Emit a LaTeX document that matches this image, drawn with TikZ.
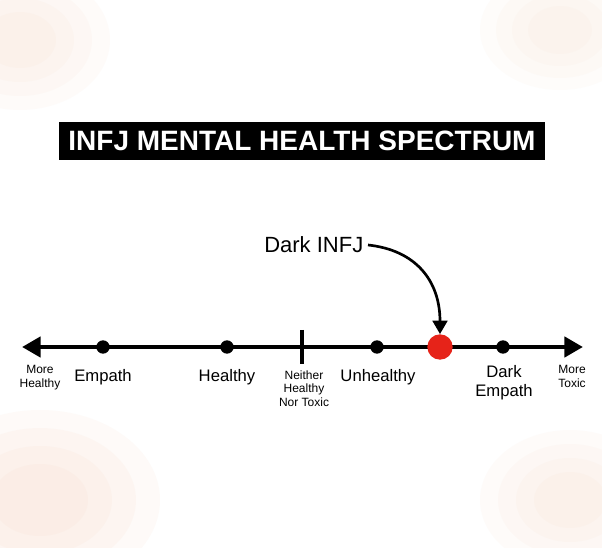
\documentclass[tikz,border=0pt]{standalone}
\usepackage{fontspec}
\setmainfont{Liberation Sans}
\usetikzlibrary{arrows.meta}
\definecolor{peach}{RGB}{245,205,180}
\definecolor{dotred}{RGB}{230,35,25}
\begin{document}
\begin{tikzpicture}[x=0.75pt,y=-0.75pt,
  dot/.style={circle,fill=black,inner sep=0pt,minimum size=10pt},
  lab/.style={font=\fontsize{12.5}{14}\selectfont,align=center,anchor=north},
  small/.style={font=\fontsize{9}{10}\selectfont,align=center,anchor=north}]
\useasboundingbox (0,0) rectangle (602,548);
\fill[white] (0,0) rectangle (602,548);
\begin{scope}
\clip (0,0) rectangle (602,548);
\foreach \r in {1,0.8,0.6,0.4}{
\fill[peach,opacity=0.07] (20,40) ellipse ({90*\r} and {70*\r});
\fill[peach,opacity=0.06] (560,30) ellipse ({80*\r} and {60*\r});
\fill[peach,opacity=0.09] (40,500) ellipse ({120*\r} and {90*\r});
\fill[peach,opacity=0.07] (570,500) ellipse ({90*\r} and {70*\r});
}
\end{scope}
\node[fill=black,text=white,font=\bfseries\fontsize{21}{24}\selectfont,minimum width=364pt,minimum height=28pt,inner sep=0pt] (title) at (302,141) {INFJ MENTAL HEALTH SPECTRUM};
\coordinate (L) at (22,347);
\coordinate (R) at (583,347);
\draw[line width=3.6pt,{Triangle[length=14pt,width=15pt]}-{Triangle[length=14pt,width=15pt]}] (L) -- (R);
\node[dot] (d1) at (103,347) {};
\node[dot] (d2) at (227,347) {};
\node[dot] (d3) at (377,347) {};
\node[dot] (d4) at (503,347) {};
\node[circle,fill=dotred,inner sep=0pt,minimum size=19pt] (red) at (440,347) {};
\coordinate (t1) at (302,330);
\coordinate (t2) at (302,364);
\draw[line width=2.6pt] (t1) -- (t2);
\node[small] at (40,361) {More\\Healthy};
\node[lab] at (103,365) {Empath};
\node[lab] at (227,365) {Healthy};
\node[small] at (304,366) {Neither\\Healthy\\Nor Toxic};
\node[lab] at (378,365) {Unhealthy};
\node[lab] at (504,361) {Dark\\Empath};
\node[small] at (572,361) {More\\Toxic};
\node[font=\fontsize{16.5}{18}\selectfont,anchor=east] (dark) at (368,245) {Dark INFJ};
\draw[line width=2pt,-{Triangle[length=10pt,width=11pt]}] (dark.east) .. controls (415,250) and (440,280) .. (red.north);
\end{tikzpicture}
\end{document}
